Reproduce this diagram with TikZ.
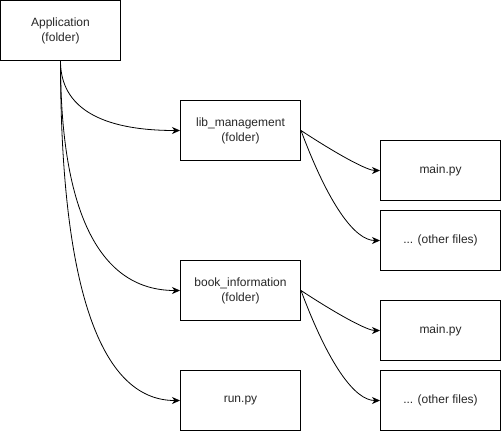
\documentclass[tikz,border=0pt]{standalone}
\usepackage{fontspec}
\setmainfont{Liberation Sans}
\usetikzlibrary{arrows.meta,calc}
\begin{document}
\begin{tikzpicture}[x=1pt,y=-1pt,
  box/.style={draw=black,line width=1pt,minimum width=120pt,minimum height=60pt,inner sep=0pt,align=center,font=\fontsize{12}{15}\selectfont,text=black!85},
  arr/.style={draw=black,line width=0.8pt,-{Stealth[length=8pt,width=7pt,inset=2.5pt]}}]
\useasboundingbox (0,0) rectangle (502,432);
\node[box] (app) at (60.5,30.5) {Application\\(folder)};
\node[box] (lib) at (240.5,130.5) {lib\_management\\(folder)};
\node[box] (m1) at (440.5,170.5) {main.py};
\node[box] (o1) at (440.5,240.5) {... (other files)};
\node[box] (book) at (240.5,290.5) {book\_information\\(folder)};
\node[box] (m2) at (440.5,330.5) {main.py};
\node[box] (o2) at (440.5,400.5) {... (other files)};
\node[box] (run) at (240.5,400.5) {run.py};
% Application edges (quadratic with corner control)
\coordinate (c1) at (app.south |- lib.west);
\coordinate (c2) at (app.south |- book.west);
\coordinate (c3) at (app.south |- run.west);
\draw[arr] (app.south) .. controls ($(app.south)!2/3!(c1)$) and ($(lib.west)!2/3!(c1)$) .. (lib.west);
\draw[arr] (app.south) .. controls ($(app.south)!2/3!(c2)$) and ($(book.west)!2/3!(c2)$) .. (book.west);
\draw[arr] (app.south) .. controls ($(app.south)!2/3!(c3)$) and ($(run.west)!2/3!(c3)$) .. (run.west);
% lib edges
\coordinate (d1) at ($(m1.west)+(-18,0)$);
\coordinate (d2) at ($(o1.west)+(-38,0)$);
\draw[arr] (lib.east) .. controls ($(lib.east)!2/3!(d1)$) and ($(m1.west)!2/3!(d1)$) .. (m1.west);
\draw[arr] (lib.east) .. controls ($(lib.east)!2/3!(d2)$) and ($(o1.west)!2/3!(d2)$) .. (o1.west);
% book edges
\coordinate (e1) at ($(m2.west)+(-18,0)$);
\coordinate (e2) at ($(o2.west)+(-38,0)$);
\draw[arr] (book.east) .. controls ($(book.east)!2/3!(e1)$) and ($(m2.west)!2/3!(e1)$) .. (m2.west);
\draw[arr] (book.east) .. controls ($(book.east)!2/3!(e2)$) and ($(o2.west)!2/3!(e2)$) .. (o2.west);
\end{tikzpicture}
\end{document}
